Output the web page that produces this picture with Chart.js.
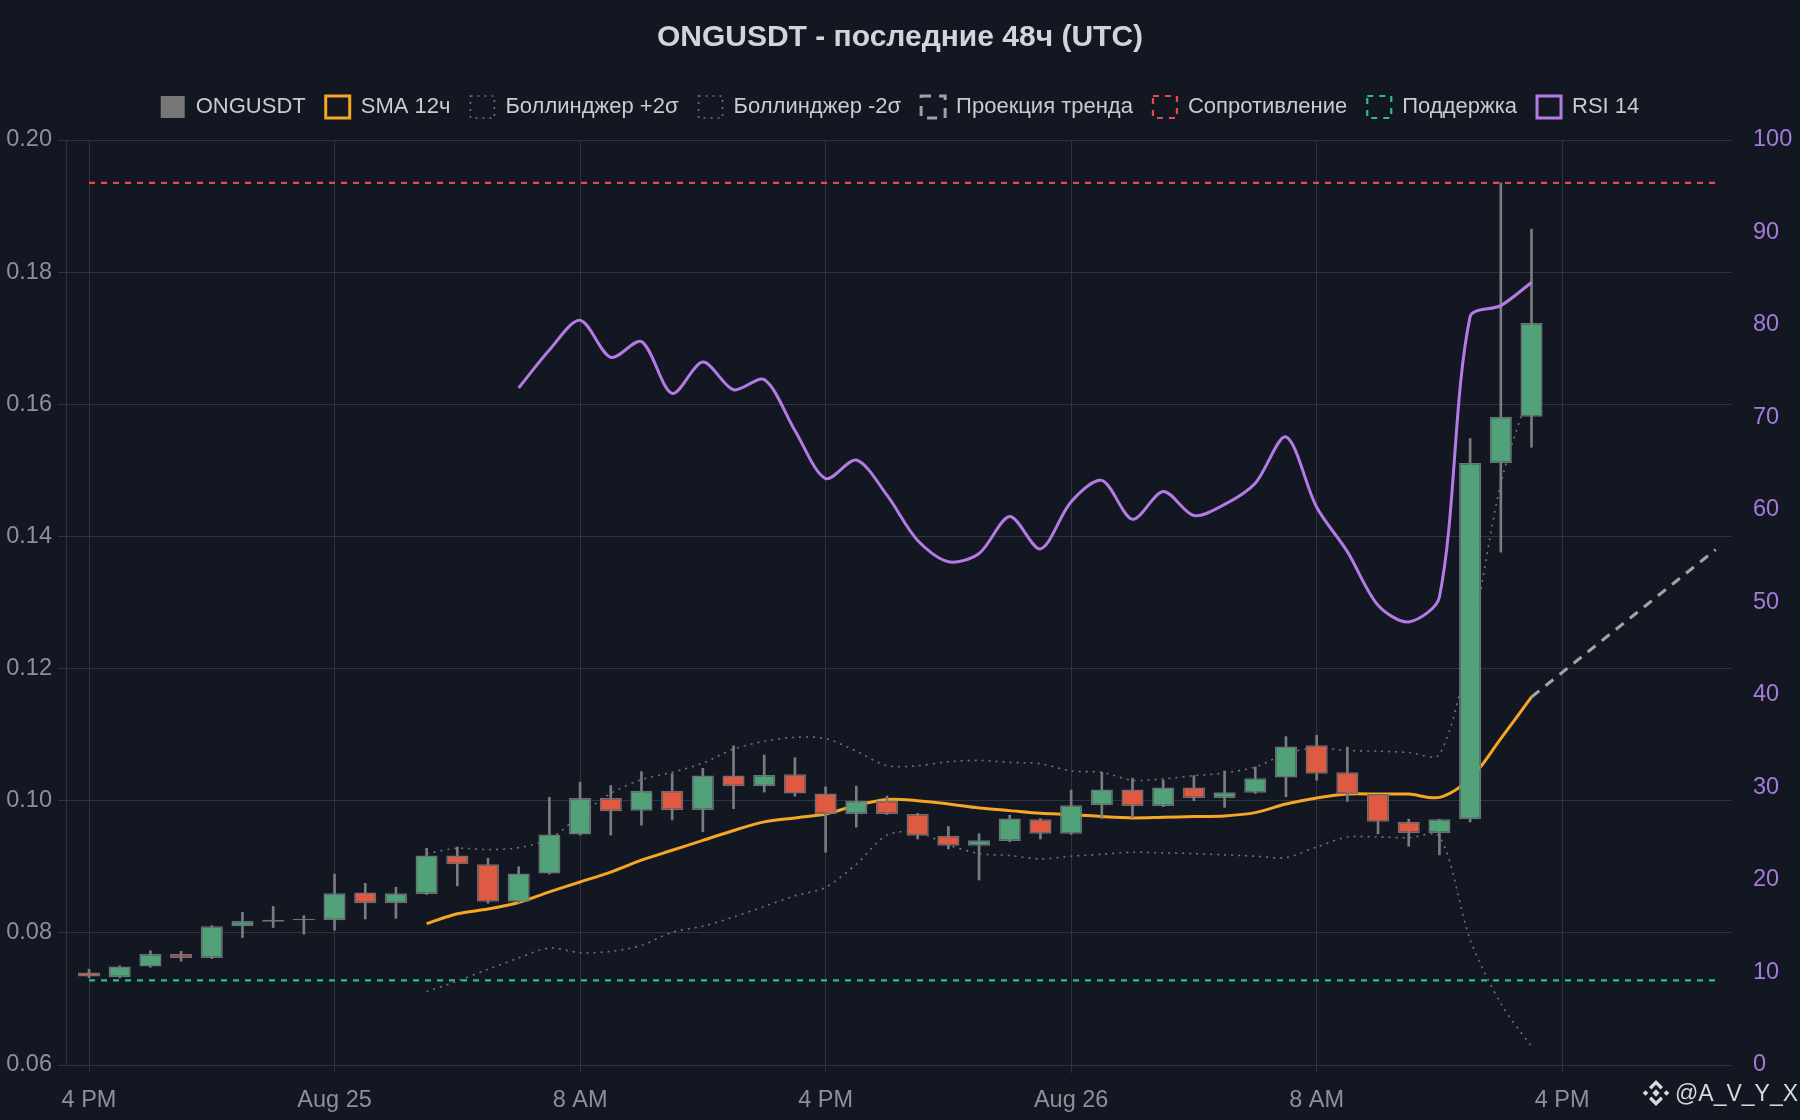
<!DOCTYPE html>
<html>
<head>
<meta charset="utf-8">
<script src="https://cdn.jsdelivr.net/npm/chart.js@4.4.1/dist/chart.umd.min.js"></script>
<style>
  html, body { margin: 0; padding: 0; background: #131722; }
  #wrap { position: relative; width: 1800px; height: 1120px; background: #131722; }
  canvas { display: block; }
  #wm { position: absolute; left: 1642px; top: 1079px; display: flex; align-items: center; gap: 5px;
        font-family: 'Liberation Sans', Arial, sans-serif; font-size: 23px; color: #d5d8de; }
</style>
</head>
<body>
<div id="wrap">
  <canvas id="chart" width="1800" height="1120"></canvas>
  <div id="wm">
    <svg width="28" height="28" viewBox="-14 -14 28 28">
      <g fill="#d5d8de">
        <rect x="-2.6" y="-2.6" width="5.2" height="5.2" transform="rotate(45)"/>
        <polygon points="0,-13 7,-6 4.6,-3.6 0,-8.2 -4.6,-3.6 -7,-6"/>
        <polygon points="0,13 7,6 4.6,3.6 0,8.2 -4.6,3.6 -7,6"/>
        <rect x="-2" y="-2" width="4" height="4" transform="translate(-10.5,0) rotate(45)"/>
        <rect x="-2" y="-2" width="4" height="4" transform="translate(10.5,0) rotate(45)"/>
      </g>
    </svg>
    <span>@A_V_Y_X</span>
  </div>
</div>
<script>
// ---- Data (hour index from Aug 24, 4 PM UTC) ----
const candleHours = [0,1,2,3,4,5,6,7,8,9,10,11,12,13,14,15,16,17,18,19,20,21,22,23,
                     24,25,26,27,28,29,30,31,32,33,34,35,36,37,38,39,40,41,42,43,44,45,46,47];
const opens  = [0.0740,0.0733,0.0749,0.0768,0.0762,0.0810,0.0817,0.0821,0.0819,0.0861,0.0845,0.0859,
                0.0917,0.0904,0.0847,0.0890,0.0949,0.1004,0.0985,0.1015,0.0986,0.1038,0.1022,0.1040,
                0.1011,0.0980,0.1000,0.0980,0.0947,0.0932,0.0939,0.0972,0.0950,0.0993,0.1017,0.0992,
                0.1020,0.1004,0.1012,0.1035,0.1084,0.1043,0.1010,0.0968,0.0951,0.0972,0.1511,0.1581];
const highs  = [0.0745,0.0750,0.0773,0.0772,0.0811,0.0831,0.0840,0.0826,0.0889,0.0875,0.0869,0.0928,
                0.0930,0.0913,0.0900,0.1005,0.1028,0.1023,0.1044,0.1041,0.1049,0.1083,0.1069,0.1065,
                0.1021,0.1022,0.1007,0.0981,0.0961,0.0950,0.0978,0.0973,0.1016,0.1043,0.1034,0.1031,
                0.1038,0.1045,0.1051,0.1097,0.1099,0.1081,0.1010,0.0972,0.0972,0.1548,0.1935,0.1865];
const lows   = [0.0732,0.0732,0.0748,0.0757,0.0761,0.0793,0.0808,0.0798,0.0804,0.0821,0.0822,0.0858,
                0.0871,0.0845,0.0845,0.0889,0.0948,0.0948,0.0963,0.0971,0.0953,0.0988,0.1013,0.1007,
                0.0922,0.0960,0.0979,0.0942,0.0927,0.0880,0.0938,0.0942,0.0949,0.0973,0.0974,0.0991,
                0.1000,0.0990,0.1011,0.1006,0.1031,0.0999,0.0950,0.0931,0.0918,0.0968,0.1376,0.1535];
const closes = [0.0734,0.0749,0.0768,0.0762,0.0810,0.0818,0.0820,0.0819,0.0860,0.0845,0.0860,0.0917,
                0.0904,0.0847,0.0890,0.0949,0.1004,0.0984,0.1015,0.0986,0.1038,0.1022,0.1039,0.1011,
                0.0980,0.1000,0.0980,0.0947,0.0932,0.0940,0.0973,0.0950,0.0993,0.1017,0.0992,0.1020,
                0.1004,0.1013,0.1034,0.1082,0.1041,0.1010,0.0968,0.0951,0.0972,0.1511,0.1581,0.1723];

const indHours = [11,12,13,14,15,16,17,18,19,20,21,22,23,24,25,26,27,28,29,30,31,32,33,34,35,36,37,
                  38,39,40,41,42,43,44,45,46,47];
const sma12  = [0.0814,0.0829,0.0836,0.0846,0.0862,0.0877,0.0892,0.0910,0.0925,0.0940,0.0955,0.0968,
                0.0974,0.0980,0.0993,0.1002,0.1000,0.0995,0.0989,0.0985,0.0981,0.0979,0.0976,0.0974,
                0.0975,0.0976,0.0977,0.0982,0.0995,0.1004,0.1010,0.1010,0.1010,0.1005,0.1033,0.1094,0.1157];
const bbUpper = [0.0920,0.0928,0.0926,0.0929,0.0942,0.0978,0.1011,0.1032,0.1043,0.1057,0.1078,0.1090,
                 0.1096,0.1094,0.1075,0.1053,0.1053,0.1059,0.1061,0.1058,0.1056,0.1045,0.1043,0.1031,
                 0.1033,0.1038,0.1042,0.1051,0.1071,0.1080,0.1076,0.1075,0.1073,0.1070,0.1236,0.1480,0.1630];
const bbLower = [0.0711,0.0727,0.0745,0.0762,0.0777,0.0770,0.0772,0.0781,0.0801,0.0810,0.0824,0.0840,
                 0.0856,0.0869,0.0904,0.0948,0.0952,0.0933,0.0920,0.0917,0.0912,0.0916,0.0919,0.0922,
                 0.0921,0.0920,0.0918,0.0916,0.0914,0.0930,0.0945,0.0945,0.0944,0.0946,0.0790,0.0693,0.0628];

const rsiHours = [14,15,16,17,18,19,20,21,22,23,24,25,26,27,28,29,30,31,32,33,34,35,36,37,38,39,40,
                  41,42,43,44,45,46,47];
const rsi14 = [73.2,77.3,80.5,76.5,78.2,72.6,76.0,73.0,74.1,68.6,63.4,65.4,61.6,56.7,54.4,55.3,59.3,
               55.8,60.9,63.2,59.0,62.0,59.4,60.6,62.9,67.9,60.3,55.5,49.7,47.9,50.6,80.9,82.1,84.6];

const projHours = [47, 53];
const projVals  = [0.1157, 0.1380];
const levelHours = [0, 53];
const resistanceVals = [0.1935, 0.1935];
const supportVals    = [0.0728, 0.0728];

const xTickHours  = [0, 8, 16, 24, 32, 40, 48];
const xTickLabels = ['4 PM', 'Aug 25', '8 AM', '4 PM', 'Aug 26', '8 AM', '4 PM'];
const yTickVals   = [0.06, 0.08, 0.10, 0.12, 0.14, 0.16, 0.18, 0.20];

// ---- Styles ----
const BG = '#131722', GRID = '#30343f';
const UP = '#51a278', DOWN = '#df5a42';
const TICK_FONT = { size: 23.5 };

const pts = (xs, ys) => xs.map((x, i) => ({ x: x, y: ys[i] }));

const bgPlugin = {
  id: 'bg',
  beforeDraw(chart) {
    const c = chart.ctx;
    c.save(); c.fillStyle = BG; c.fillRect(0, 0, chart.width, chart.height); c.restore();
  }
};
const legendGap = {
  id: 'legendGap',
  beforeInit(chart) {
    const lg = chart.legend;
    const origFit = lg.fit;
    lg.fit = function () { origFit.bind(lg)(); this.height += 12; };
  }
};

Chart.defaults.font.family = "'Liberation Sans', Arial, sans-serif";

new Chart(document.getElementById('chart'), {
  type: 'bar',
  data: {
    datasets: [
      { type: 'bar', label: 'ONGUSDT', yAxisID: 'y', order: 1,
        data: candleHours.map((h, i) => ({ x: h, y: [opens[i], closes[i]] })),
        backgroundColor: ctx => (closes[ctx.dataIndex] >= opens[ctx.dataIndex] ? UP : DOWN),
        borderColor: '#6f7175', borderWidth: 1.5, borderSkipped: false,
        grouped: false, barPercentage: 0.72, categoryPercentage: 1 },
      { type: 'line', label: 'SMA 12ч', yAxisID: 'y', order: 3,
        data: pts(indHours, sma12), borderColor: '#f5a623', backgroundColor: 'transparent',
        borderWidth: 3, pointRadius: 0, tension: 0.3 },
      { type: 'line', label: 'Боллинджер +2σ', yAxisID: 'y', order: 4,
        data: pts(indHours, bbUpper), borderColor: '#6e7380', backgroundColor: 'transparent',
        borderWidth: 1.6, borderDash: [2, 5], pointRadius: 0, tension: 0.3 },
      { type: 'line', label: 'Боллинджер -2σ', yAxisID: 'y', order: 4,
        data: pts(indHours, bbLower), borderColor: '#6e7380', backgroundColor: 'transparent',
        borderWidth: 1.6, borderDash: [2, 5], pointRadius: 0, tension: 0.3 },
      { type: 'line', label: 'Проекция тренда', yAxisID: 'y', order: 4,
        data: pts(projHours, projVals), borderColor: '#9ea2aa', backgroundColor: 'transparent',
        borderWidth: 3, borderDash: [10, 8], pointRadius: 0 },
      { type: 'line', label: 'Сопротивление', yAxisID: 'y', order: 5,
        data: pts(levelHours, resistanceVals), borderColor: '#e5484d', backgroundColor: 'transparent',
        borderWidth: 2.2, borderDash: [6, 6], pointRadius: 0 },
      { type: 'line', label: 'Поддержка', yAxisID: 'y', order: 5,
        data: pts(levelHours, supportVals), borderColor: '#27c08a', backgroundColor: 'transparent',
        borderWidth: 2.2, borderDash: [6, 6], pointRadius: 0 },
      { type: 'line', label: 'RSI 14', yAxisID: 'y1', order: 0,
        data: pts(rsiHours, rsi14), borderColor: '#b47be6', backgroundColor: 'transparent',
        borderWidth: 3, pointRadius: 0, tension: 0.3 },
      { type: 'bar', label: '_wick', yAxisID: 'y', order: 2,
        data: candleHours.map((h, i) => ({ x: h, y: [lows[i], highs[i]] })),
        backgroundColor: '#7a7c80', borderWidth: 0, barThickness: 2, grouped: false }
    ]
  },
  options: {
    responsive: false,
    animation: false,
    devicePixelRatio: 1,
    layout: { padding: { left: 0, right: 0, top: 0, bottom: 0 } },
    plugins: {
      title: { display: true, text: 'ONGUSDT - последние 48ч (UTC)', color: '#d1d4dc',
               font: { size: 30, weight: 'bold' }, padding: { top: 20, bottom: 20 } },
      legend: {
        display: true,
        labels: {
          color: '#c8cbd2', font: { size: 22 }, boxWidth: 24, boxHeight: 22, padding: 20,
          generateLabels(chart) {
            const items = Chart.defaults.plugins.legend.labels.generateLabels(chart);
            return items.filter(it => it.text !== '_wick')
              .sort((a, b) => a.datasetIndex - b.datasetIndex)
              .map(it => {
                if (it.datasetIndex === 0) { it.fillStyle = '#777777'; it.strokeStyle = '#777777'; it.lineWidth = 0; }
                return it;
              });
          }
        }
      },
      tooltip: { enabled: false }
    },
    scales: {
      x: {
        type: 'linear', min: -0.75, max: 53.5, offset: false,
        grid: { color: GRID, offset: false, tickLength: 8 },
        border: { color: GRID },
        afterBuildTicks: s => { s.ticks = xTickHours.map(v => ({ value: v })); },
        afterFit: s => { s.height = 55; },
        ticks: { color: '#8b909a', font: TICK_FONT, padding: 13, maxRotation: 0, autoSkip: false,
                 callback: v => xTickLabels[xTickHours.indexOf(v)] }
      },
      y: {
        type: 'linear', position: 'left', min: 0.06, max: 0.20,
        grid: { color: GRID, tickLength: 8 },
        border: { color: GRID },
        afterBuildTicks: s => { s.ticks = yTickVals.map(v => ({ value: v })); },
        afterFit: s => { s.width = 66; },
        ticks: { color: '#8b909a', font: TICK_FONT, padding: 6, callback: v => Number(v).toFixed(2) }
      },
      y1: {
        type: 'linear', position: 'right', min: 0, max: 100,
        grid: { drawOnChartArea: false, tickLength: 8, tickColor: 'transparent' },
        border: { display: false },
        afterFit: s => { s.width = 69; },
        ticks: { color: '#a57ad9', font: TICK_FONT, padding: 14, stepSize: 10 }
      }
    }
  },
  plugins: [bgPlugin, legendGap]
});
</script>
</body>
</html>
